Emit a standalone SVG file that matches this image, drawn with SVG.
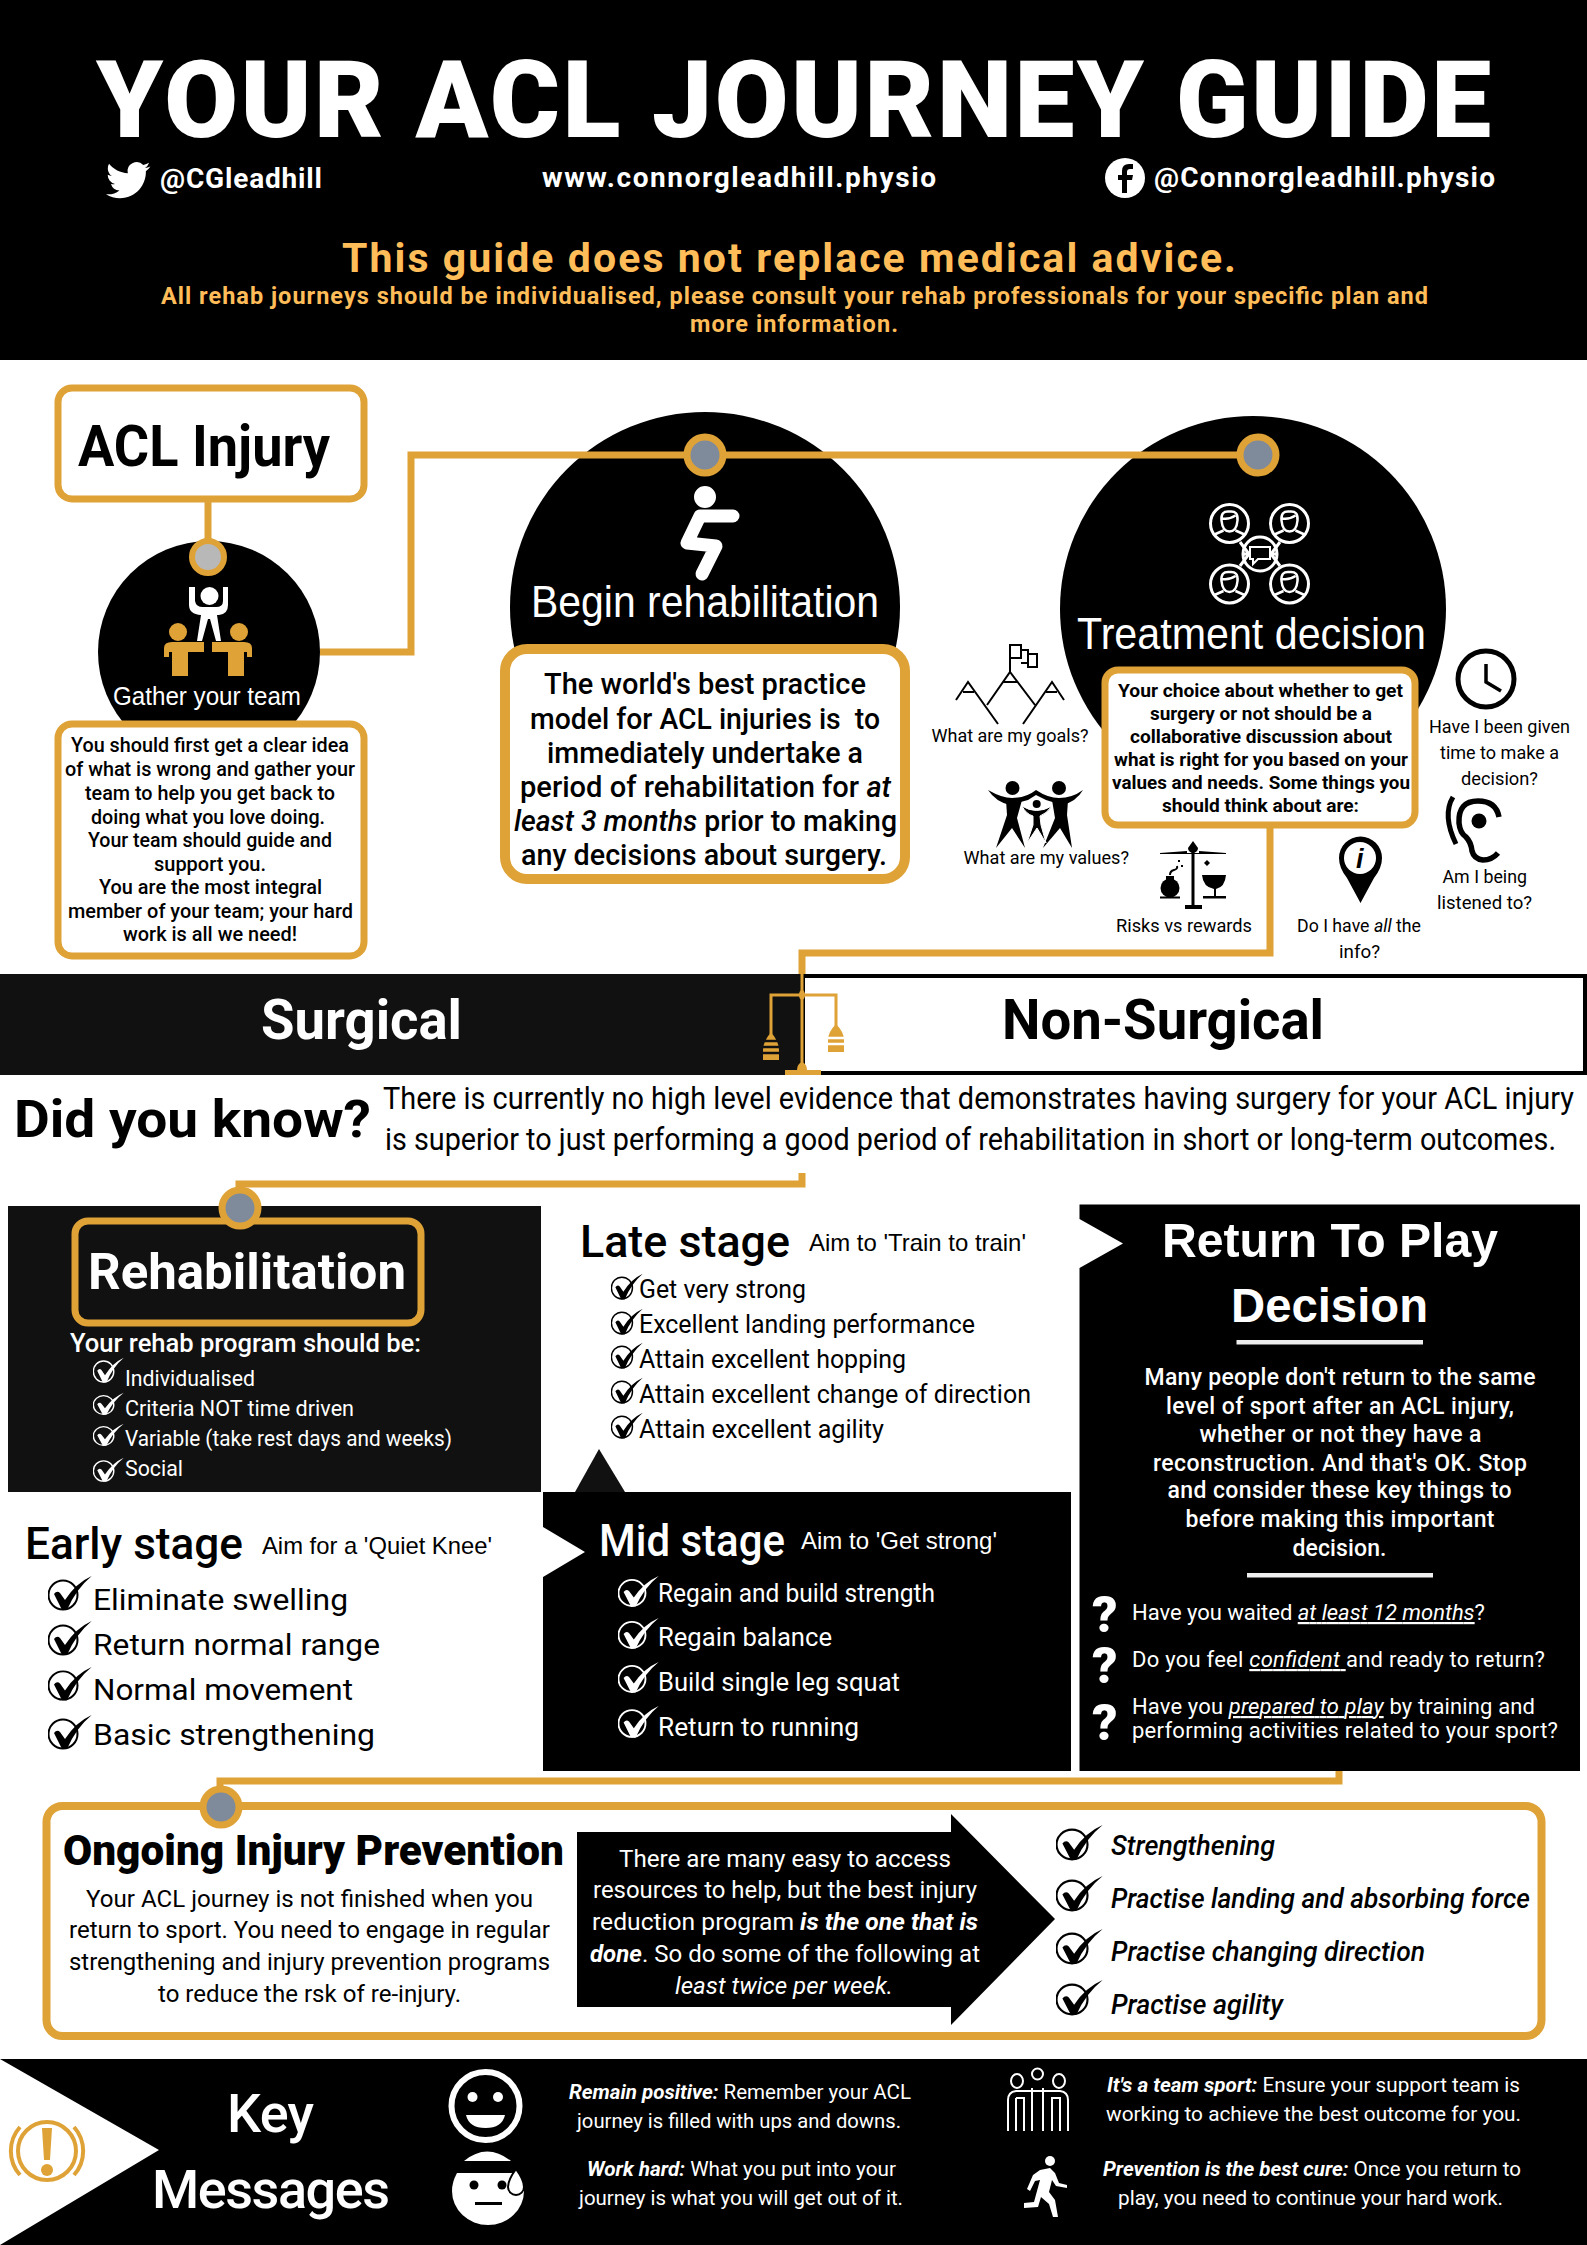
<svg xmlns="http://www.w3.org/2000/svg" width="1587" height="2245" viewBox="0 0 1587 2245">
<style>
text{font-family:"Roboto","Liberation Sans",sans-serif;white-space:pre}
.ls{font-family:"Liberation Sans",Arial,sans-serif}
.w{fill:#fff}.k{fill:#000}.o{fill:#ffbd59}
.b{font-weight:700}.m{font-weight:500}.x{font-weight:900}
.i{font-style:italic}
.u{text-decoration:underline}
.gold{fill:none;stroke:#dfa237}
.box{fill:#fff;stroke:#dfa237}
.conn{fill:none;stroke:#dfa237;stroke-width:7}
.nd{fill:#7f8a9b;stroke:#dfa237;stroke-width:7}
.ckk{color:#000}.ckw{color:#fff}
.line{fill:none;stroke:#000;stroke-width:2}
.wl{fill:none;stroke:#fff;stroke-width:3}
</style>
<defs>
<symbol id="chk" viewBox="0 0 44 40" preserveAspectRatio="none">
<circle cx="15" cy="20" r="14.500" fill="none" stroke="currentColor" stroke-width="2"/>
<path d="M6,19 Q9,15 12,18 L17,25 Q28,8 43.700,1 Q28,14 19,35 H14 Z" fill="currentColor"/>
</symbol>
<g id="person">
<circle r="19"/>
<path d="M-8,-3 Q-9,-13 0,-12 Q9,-13 8,-3 Q7,8 0,8 Q-7,8 -8,-3 M-7,-5 Q0,-4 6,-8 M-15,11 L-6,7 M15,11 L6,7" stroke-width="2.500"/>
</g>
</defs>
<rect width="1587" height="2245" fill="#fff"/>

<g id="header">
<rect width="1587" height="360" fill="#000"/>
<text class="w x" x="96" y="137" font-size="107" textLength="1395" lengthAdjust="spacing">YOUR ACL JOURNEY GUIDE</text>
<path transform="translate(106,158) scale(1.85)" fill="#fff" d="M23.953 4.57a10 10 0 01-2.825.775 4.958 4.958 0 002.163-2.723c-.951.555-2.005.959-3.127 1.184a4.92 4.92 0 00-8.384 4.482C7.69 8.095 4.067 6.13 1.64 3.162a4.822 4.822 0 00-.666 2.475c0 1.71.87 3.213 2.188 4.096a4.904 4.904 0 01-2.228-.616v.06a4.923 4.923 0 003.946 4.827 4.996 4.996 0 01-2.212.085 4.936 4.936 0 004.604 3.417 9.867 9.867 0 01-6.102 2.105c-.39 0-.779-.023-1.17-.067a13.995 13.995 0 007.557 2.209c9.053 0 13.998-7.496 13.998-13.985 0-.21 0-.42-.015-.63A9.935 9.935 0 0024 4.59z"/>
<text class="w b" x="160" y="188" font-size="28" textLength="162" lengthAdjust="spacing">@CGleadhill</text>
<text class="w b" x="542" y="187" font-size="28" textLength="394" lengthAdjust="spacing">www.connorgleadhill.physio</text>
<circle cx="1125" cy="178" r="20" fill="#fff"/>
<path d="M1127,193 v-13 h5 l1,-5 h-6 v-3 q0,-3 3,-3 h3 v-5 h-4 q-7,0 -7,7 v4 h-4 v5 h4 v13 z" fill="#000"/>
<text class="w b" x="1154" y="187" font-size="28" textLength="341" lengthAdjust="spacing">@Connorgleadhill.physio</text>
<text class="o b" x="342" y="272" font-size="41" textLength="894" lengthAdjust="spacing">This guide does not replace medical advice.</text>
<text class="o b" x="161" y="304" font-size="23.500" textLength="1267" lengthAdjust="spacing">All rehab journeys should be individualised, please consult your rehab professionals for your specific plan and</text>
<text class="o b" x="690" y="332" font-size="23.500" textLength="208" lengthAdjust="spacing">more information.</text>
</g>

<g id="node-begin-circle"><circle cx="705" cy="607" r="195" fill="#000"/></g>
<g id="node-treat-circle"><circle cx="1253" cy="609" r="193" fill="#000"/></g>
<g id="node-gather-circle"><circle cx="209" cy="652" r="111" fill="#000"/></g>

<g id="connectors">
<path class="conn" d="M208,502 V540"/>
<path class="conn" d="M320,652 H411 V455 H1258"/>
<path class="conn" d="M1270,828 V953 H802 V1070"/>
<path class="conn" d="M802,1173 V1184 H239 V1200"/>
<path class="conn" d="M1339,1771 V1781 H220 V1795"/>
</g>

<g id="node-acl-injury">
<rect class="box" x="58" y="388" width="306" height="111" rx="14" stroke-width="7"/>
<text class="k b" x="78" y="466" font-size="58" textLength="252" lengthAdjust="spacingAndGlyphs">ACL Injury</text>
</g>

<g id="node-gather">
<circle cx="208" cy="557" r="16" fill="#b8b8b8" stroke="#dfa237" stroke-width="6"/>
<g id="icon-team">
<circle cx="209.500" cy="596" r="9" fill="#fff"/>
<path d="M189,587 h6 v14 q1,6 8,6 h13 q7,0 7,-6 v-14 h5 v18 q0,9 -9,10 l-2,0 l4,26 h-5 l-6,-22 h-2 l-6,22 h-5 l4,-26 q-12,-1 -12,-10 z" fill="#fff"/>
<circle cx="178" cy="632" r="9" fill="#dfa237"/><circle cx="239" cy="632" r="9" fill="#dfa237"/>
<path d="M172,642 h32 v10 h-16 v24 h-16 v-24 h-3 v5 h-5 v-9 q0,-6 8,-6z M244,642 h-32 v10 h16 v24 h16 v-24 h3 v5 h5 v-9 q0,-6 -8,-6z" fill="#dfa237"/>
</g>
<text class="ls w" x="113" y="705" font-size="26" textLength="188" lengthAdjust="spacingAndGlyphs">Gather your team</text>
<rect class="box" x="58" y="724" width="306" height="232" rx="14" stroke-width="7"/>
<g class="k m" font-size="20">
<text x="71" y="752" textLength="278" lengthAdjust="spacingAndGlyphs">You should first get a clear idea</text>
<text x="65" y="776" textLength="290" lengthAdjust="spacingAndGlyphs">of what is wrong and gather your</text>
<text x="85" y="800" textLength="250" lengthAdjust="spacingAndGlyphs">team to help you get back to</text>
<text x="91" y="824" textLength="234" lengthAdjust="spacingAndGlyphs">doing what you love doing.</text>
<text x="88" y="847" textLength="244" lengthAdjust="spacingAndGlyphs">Your team should guide and</text>
<text x="154" y="871" textLength="112" lengthAdjust="spacingAndGlyphs">support you.</text>
<text x="99" y="894" textLength="223" lengthAdjust="spacingAndGlyphs">You are the most integral</text>
<text x="68" y="918" textLength="285" lengthAdjust="spacingAndGlyphs">member of your team; your hard</text>
<text x="123" y="941" textLength="174" lengthAdjust="spacingAndGlyphs">work is all we need!</text>
</g>
</g>

<g id="node-begin">
<circle class="nd" cx="705" cy="455" r="18"/>
<g id="icon-squat" fill="none" stroke="#fff" stroke-width="13" stroke-linecap="round" stroke-linejoin="round">
<path d="M733,516 H700 L687,543 L716,546 L702,574"/>
<circle cx="705" cy="497" r="5" stroke-width="12" fill="#fff"/>
</g>
<text class="ls w" x="531" y="617" font-size="44" textLength="348" lengthAdjust="spacingAndGlyphs">Begin rehabilitation</text>
<rect class="box" x="505" y="649" width="400" height="230" rx="22" stroke-width="10"/>
<g class="k m" font-size="29">
<text x="544" y="694" textLength="322" lengthAdjust="spacingAndGlyphs">The world's best practice</text>
<text x="530" y="729" textLength="350" lengthAdjust="spacingAndGlyphs">model for ACL injuries is  to</text>
<text x="547" y="763" textLength="316" lengthAdjust="spacingAndGlyphs">immediately undertake a</text>
<text x="520" y="797" textLength="371" lengthAdjust="spacingAndGlyphs">period of rehabilitation for <tspan class="i">at</tspan></text>
<text x="514" y="831" textLength="383" lengthAdjust="spacingAndGlyphs"><tspan class="i">least 3 months</tspan> prior to making</text>
<text x="521" y="865" textLength="366" lengthAdjust="spacingAndGlyphs">any decisions about surgery.</text>
</g>
</g>

<g id="node-treatment">
<circle class="nd" cx="1258" cy="455" r="18"/>
<g id="icon-network" class="wl">
<path d="M1240,542 L1249,554 L1240,566 M1280,542 L1271,554 L1280,566 M1249,554 H1243 M1271,554 H1277"/>
<use href="#person" x="1229.500" y="523.500"/><use href="#person" x="1289.500" y="523.500"/>
<use href="#person" x="1229.500" y="584"/><use href="#person" x="1289.500" y="584"/>
<circle cx="1260" cy="554" r="17"/>
<path d="M1250,547 h20 v12 h-12 l-5,5 v-5 h-3z" stroke-width="2"/>
</g>
<text class="ls w" x="1077" y="649" font-size="44" textLength="349" lengthAdjust="spacingAndGlyphs">Treatment decision</text>
<rect class="box" x="1105" y="670" width="310" height="155" rx="13" stroke-width="7"/>
<g class="k b" font-size="19">
<text x="1118" y="697" textLength="285" lengthAdjust="spacingAndGlyphs">Your choice about whether to get</text>
<text x="1150" y="720" textLength="222" lengthAdjust="spacingAndGlyphs">surgery or not should be a</text>
<text x="1130" y="743" textLength="262" lengthAdjust="spacingAndGlyphs">collaborative discussion about</text>
<text x="1114" y="766" textLength="294" lengthAdjust="spacingAndGlyphs">what is right for you based on your</text>
<text x="1112" y="789" textLength="298" lengthAdjust="spacingAndGlyphs">values and needs. Some things you</text>
<text x="1162" y="812" textLength="197" lengthAdjust="spacingAndGlyphs">should think about are:</text>
</g>
</g>

<g id="node-goals">
<g class="line">
<path d="M1010,672 V645 h11 v13 h-11 M1021,650 h7 v13 h-7 M1028,654 h9 v13 h-9 v-4"/>
<path d="M956,700 L968,682 L998,724 M987,705 L1010,672 L1035,705 M1023,724 L1052,682 L1064,700"/>
<path d="M963,692 h11 M1003,682 h14 M1046,692 h11"/>
</g>
<text class="k" x="931.500" y="742" font-size="18.500" textLength="157" lengthAdjust="spacingAndGlyphs">What are my goals?</text>
</g>
<g id="node-values">
<circle cx="1012.500" cy="788" r="7"/><circle cx="1059" cy="788" r="7"/>
<path d="M988,790 Q1002,798 1012,798 Q1026,798 1036,790 Q1048,798 1059,798 Q1072,798 1083,790 Q1076,802 1062,805 L1046,800 L1036,795 L1028,800 L1010,805 Q996,802 988,790Z"/>
<path d="M1006,800 L1022,800 L1017,818 L1025,848 L1012,828 L996,848 L1007,815 Z M1052,800 L1068,800 L1067,815 L1072,848 L1060,828 L1043,848 L1055,818Z"/>
<path d="M1022,806 Q1036,815 1052,806 Q1046,814 1040,816 L1041,825 L1046,843 L1037,828 L1027,843 L1033,825 L1033,816 Q1026,814 1022,806Z" stroke="#fff" stroke-width="1"/>
<circle cx="1036.700" cy="804" r="4"/>
<text class="k" x="963.500" y="864" font-size="18.500" textLength="165.500" lengthAdjust="spacingAndGlyphs">What are my values?</text>
</g>
<g id="node-risks">
<rect x="1191.500" y="851" width="3" height="55"/>
<path d="M1160,853 L1187,851 V853 H1199 V851 L1226,853 V854 H1160Z M1193,841 l5,7 a5,5 0 0 1 -10,0z"/>
<rect x="1185" y="905" width="17" height="4"/>
<circle cx="1170" cy="888" r="9.500"/><rect x="1166" y="876" width="8" height="5"/>
<path d="M1170,875 q0,-4 4,-5 q4,-1 3,-4 M1181,866 h2 M1178,861 h2" fill="none" stroke="#000" stroke-width="2"/>
<rect x="1160" y="896.500" width="20" height="2"/>
<path d="M1202,875 h24 q-1,12 -10,14 v7 h10 v2.500 h-23 v-2.500 h11 v-7 q-11,-2 -12,-14z"/>
<path d="M1207,860 l3,3 l-3,3 l-3,-3z"/>
<text class="k" x="1116" y="932" font-size="18.500" textLength="136" lengthAdjust="spacingAndGlyphs">Risks vs rewards</text>
</g>
<g id="node-info">
<path d="M1339,858 a21.500,21.500 0 0 1 43,0 q0,10 -8,20 l-13.500,25 l-13.500,-25 q-8,-10 -8,-20z"/>
<circle cx="1360" cy="858" r="16" fill="#fff"/>
<text class="ls b i k" x="1356" y="868" font-size="27">i</text>
<text class="k" x="1297" y="932" font-size="18.500" textLength="124" lengthAdjust="spacingAndGlyphs">Do I have <tspan class="i">all</tspan> the</text>
<text class="k" x="1339" y="958" font-size="18.500" textLength="41" lengthAdjust="spacingAndGlyphs">info?</text>
</g>
<g id="node-time">
<circle cx="1486" cy="679" r="28" fill="none" stroke="#000" stroke-width="5"/>
<path d="M1486,664 V682 L1501,691" fill="none" stroke="#000" stroke-width="3.500"/>
<text class="k" x="1429" y="733" font-size="18.500" textLength="141" lengthAdjust="spacingAndGlyphs">Have I been given</text>
<text class="k" x="1440" y="759" font-size="18.500" textLength="119" lengthAdjust="spacingAndGlyphs">time to make a</text>
<text class="k" x="1461" y="785" font-size="18.500" textLength="77" lengthAdjust="spacingAndGlyphs">decision?</text>
</g>
<g id="node-listen">
<path d="M1453,797 q-11,18 3,47" fill="none" stroke="#000" stroke-width="5"/>
<path d="M1499,817 q-3,-16 -21,-16 q-20,0 -19,22 q1,10 7,14 q5,5 6,14 q2,8 11,9 q9,0 15,-7" fill="none" stroke="#000" stroke-width="5.500"/>
<circle cx="1479" cy="821" r="7.500"/>
<text class="k" x="1442.500" y="883" font-size="18.500" textLength="84.500" lengthAdjust="spacingAndGlyphs">Am I being</text>
<text class="k" x="1437" y="909" font-size="18.500" textLength="95" lengthAdjust="spacingAndGlyphs">listened to?</text>
</g>

<g id="node-surgical">
<rect x="0" y="974" width="803" height="101" fill="#111"/>
<text class="w b" x="261" y="1039" font-size="56" textLength="201" lengthAdjust="spacingAndGlyphs">Surgical</text>
</g>
<g id="node-non-surgical">
<rect x="803" y="976" width="782" height="97" fill="#fff" stroke="#000" stroke-width="4"/>
<text class="k b" x="1002" y="1039" font-size="56" textLength="322" lengthAdjust="spacingAndGlyphs">Non-Surgical</text>
</g>
<g id="scale-icon">
<path d="M802,974 V1070" fill="none" stroke="#dfa237" stroke-width="3"/>
<path d="M802,995 H771 V1034 M802,995 H836 V1026" fill="none" stroke="#dfa237" stroke-width="3"/>
<ellipse cx="802" cy="995" rx="3" ry="5" fill="#dfa237"/>
<path d="M763,1050 q0,-8 8,-18 q8,10 8,18 v10 h-16z" fill="#dfa237"/>
<path d="M763,1041 h16 M763,1047 h16 M763,1053 h16" stroke="#111" stroke-width="2.500"/>
<path d="M828,1040 q0,-8 8,-16 q8,8 8,16 v12 h-16z" fill="#dfa237"/>
<path d="M828,1038 h16 M828,1044 h16" stroke="#fff" stroke-width="2.500"/>
<path d="M797,1070 q0,-6 5,-8 q5,2 5,8z" fill="#dfa237"/>
<rect x="785" y="1070" width="36" height="5" fill="#dfa237"/>
</g>

<g id="node-did-you-know">
<text class="k b" x="14" y="1137" font-size="52" textLength="357" lengthAdjust="spacingAndGlyphs">Did you know?</text>
<text class="k" x="383" y="1109" font-size="31" textLength="1191" lengthAdjust="spacingAndGlyphs">There is currently no high level evidence that demonstrates having surgery for your ACL injury</text>
<text class="k" x="385" y="1150" font-size="31" textLength="1171" lengthAdjust="spacingAndGlyphs">is superior to just performing a good period of rehabilitation in short or long-term outcomes.</text>
</g>

<g id="node-rehabilitation" class="ckw">
<rect x="8" y="1206" width="533" height="286" fill="#111"/>
<rect x="75" y="1221" width="346" height="102" rx="13" fill="none" stroke="#dfa237" stroke-width="7"/>
<circle class="nd" cx="240" cy="1208" r="18"/>
<text class="w b" x="88" y="1289" font-size="50" textLength="318" lengthAdjust="spacingAndGlyphs">Rehabilitation</text>
<text class="w m" x="70" y="1352" font-size="25" textLength="351" lengthAdjust="spacingAndGlyphs">Your rehab program should be:</text>
<use href="#chk" x="93" y="1357" width="31" height="29"/>
<use href="#chk" x="93" y="1392" width="31" height="26"/>
<use href="#chk" x="93" y="1423" width="31" height="26"/>
<use href="#chk" x="93" y="1457" width="31" height="28"/>
<g class="w" font-size="22">
<text x="125" y="1386" textLength="130" lengthAdjust="spacingAndGlyphs">Individualised</text>
<text x="125" y="1416" textLength="229" lengthAdjust="spacingAndGlyphs">Criteria NOT time driven</text>
<text x="125" y="1446" textLength="327" lengthAdjust="spacingAndGlyphs">Variable (take rest days and weeks)</text>
<text x="125" y="1476" textLength="58" lengthAdjust="spacingAndGlyphs">Social</text>
</g>
</g>

<g id="node-late-stage" class="ckk">
<text class="k m" x="580" y="1257" font-size="44" textLength="210" lengthAdjust="spacingAndGlyphs">Late stage</text>
<text class="ls k" x="809" y="1251" font-size="24" textLength="217" lengthAdjust="spacingAndGlyphs">Aim to 'Train to train'</text>
<use href="#chk" x="611" y="1273" width="32" height="30"/>
<use href="#chk" x="611" y="1308" width="32" height="30"/>
<use href="#chk" x="611" y="1342" width="32" height="30"/>
<use href="#chk" x="611" y="1377" width="32" height="30"/>
<use href="#chk" x="611" y="1412" width="32" height="30"/>
<g class="k" font-size="25">
<text x="639" y="1298" textLength="167" lengthAdjust="spacingAndGlyphs">Get very strong</text>
<text x="639" y="1333" textLength="336" lengthAdjust="spacingAndGlyphs">Excellent landing performance</text>
<text x="639" y="1368" textLength="267" lengthAdjust="spacingAndGlyphs">Attain excellent hopping</text>
<text x="639" y="1403" textLength="392" lengthAdjust="spacingAndGlyphs">Attain excellent change of direction</text>
<text x="639" y="1438" textLength="245" lengthAdjust="spacingAndGlyphs">Attain excellent agility</text>
</g>
<path d="M599,1449 L575,1492 H625Z" fill="#111"/>
</g>

<g id="node-mid-stage" class="ckw">
<path d="M543,1492 H1071 V1771 H543 V1577 L585,1552 L543,1527Z" fill="#000"/>
<text class="w m" x="599" y="1556" font-size="44" textLength="186" lengthAdjust="spacingAndGlyphs">Mid stage</text>
<text class="ls w" x="801" y="1549" font-size="24" textLength="196" lengthAdjust="spacingAndGlyphs">Aim to 'Get strong'</text>
<use href="#chk" x="618" y="1575" width="41" height="36"/>
<use href="#chk" x="618" y="1617" width="41" height="36"/>
<use href="#chk" x="618" y="1661" width="41" height="36"/>
<use href="#chk" x="618" y="1705" width="41" height="37"/>
<g class="w" font-size="26">
<text x="658" y="1602" textLength="277" lengthAdjust="spacingAndGlyphs">Regain and build strength</text>
<text x="658" y="1646" textLength="174" lengthAdjust="spacingAndGlyphs">Regain balance</text>
<text x="658" y="1691" textLength="242" lengthAdjust="spacingAndGlyphs">Build single leg squat</text>
<text x="658" y="1736" textLength="201" lengthAdjust="spacingAndGlyphs">Return to running</text>
</g>
</g>

<g id="node-early-stage" class="ckk">
<text class="k m" x="25" y="1559" font-size="44" textLength="218" lengthAdjust="spacingAndGlyphs">Early stage</text>
<text class="ls k" x="262" y="1554" font-size="24" textLength="230" lengthAdjust="spacingAndGlyphs">Aim for a 'Quiet Knee'</text>
<use href="#chk" x="48" y="1575" width="44" height="40"/>
<use href="#chk" x="48" y="1620" width="44" height="40"/>
<use href="#chk" x="48" y="1666" width="44" height="39"/>
<use href="#chk" x="48" y="1714" width="44" height="40"/>
<g class="k" font-size="30">
<text x="93" y="1610" textLength="255" lengthAdjust="spacingAndGlyphs">Eliminate swelling</text>
<text x="93" y="1655" textLength="287" lengthAdjust="spacingAndGlyphs">Return normal range</text>
<text x="93" y="1700" textLength="260" lengthAdjust="spacingAndGlyphs">Normal movement</text>
<text x="93" y="1745" textLength="282" lengthAdjust="spacingAndGlyphs">Basic strengthening</text>
</g>
</g>

<g id="node-return-to-play">
<path d="M1079.500,1204.500 H1580 V1771 H1079.500 V1268 L1123,1243.500 L1079.500,1219Z" fill="#000"/>
<text class="ls w b" x="1162" y="1257" font-size="48" textLength="336" lengthAdjust="spacingAndGlyphs">Return To Play</text>
<text class="ls w b" x="1231" y="1322" font-size="48" textLength="197" lengthAdjust="spacingAndGlyphs">Decision</text>
<rect x="1236.500" y="1340" width="186.500" height="4.500" fill="#eee"/>
<g class="w m" font-size="23">
<text x="1144.500" y="1385" textLength="391" lengthAdjust="spacing">Many people don't return to the same</text>
<text x="1166" y="1414" textLength="348" lengthAdjust="spacing">level of sport after an ACL injury,</text>
<text x="1199.500" y="1442" textLength="282" lengthAdjust="spacing">whether or not they have a</text>
<text x="1153" y="1470.500" textLength="374" lengthAdjust="spacing">reconstruction. And that's OK. Stop</text>
<text x="1167.500" y="1498" textLength="344" lengthAdjust="spacing">and consider these key things to</text>
<text x="1185.500" y="1527" textLength="309" lengthAdjust="spacing">before making this important</text>
<text x="1292.500" y="1555.500" textLength="94" lengthAdjust="spacing">decision.</text>
</g>
<rect x="1247" y="1573" width="186" height="4.500" fill="#eee"/>
<g class="w x" font-size="50">
<text x="1092" y="1632">?</text>
<text x="1092" y="1683">?</text>
<text x="1092" y="1740">?</text>
</g>
<g class="w" font-size="22">
<text x="1132" y="1620" textLength="353" lengthAdjust="spacing">Have you waited <tspan class="i u">at least 12 months</tspan>?</text>
<text x="1132" y="1667" textLength="413" lengthAdjust="spacing">Do you feel <tspan class="i u">confident </tspan>and ready to return?</text>
<text x="1132" y="1714" textLength="403" lengthAdjust="spacing">Have you <tspan class="i u">prepared to play</tspan> by training and</text>
<text x="1132" y="1738" textLength="426" lengthAdjust="spacing">performing activities related to your sport?</text>
</g>
</g>

<g id="node-ongoing" class="ckk">
<rect class="box" x="46.500" y="1806" width="1495" height="230" rx="16" stroke-width="8"/>
<circle class="nd" cx="221" cy="1807" r="18"/>
<text class="k x" x="63" y="1865" font-size="43" textLength="501" lengthAdjust="spacingAndGlyphs">Ongoing Injury Prevention</text>
<g class="ls k" font-size="24.500">
<text x="86" y="1907" textLength="447" lengthAdjust="spacingAndGlyphs">Your ACL journey is not finished when you</text>
<text x="69" y="1938" textLength="481" lengthAdjust="spacingAndGlyphs">return to sport. You need to engage in regular</text>
<text x="69" y="1970" textLength="481" lengthAdjust="spacingAndGlyphs">strengthening and injury prevention programs</text>
<text x="158" y="2002" textLength="303" lengthAdjust="spacingAndGlyphs">to reduce the rsk of re-injury.</text>
</g>
<path d="M577,1832 H951 V1814 L1055,1919 L951,2025 V2007 H577Z" fill="#000"/>
<g class="ls w" font-size="24.500">
<text x="619" y="1867" textLength="332" lengthAdjust="spacingAndGlyphs">There are many easy to access</text>
<text x="593" y="1898" textLength="384" lengthAdjust="spacingAndGlyphs">resources to help, but the best injury</text>
<text x="592" y="1930" textLength="386" lengthAdjust="spacingAndGlyphs">reduction program <tspan class="b i">is the one that is</tspan></text>
<text x="590" y="1962" textLength="390" lengthAdjust="spacingAndGlyphs"><tspan class="b i">done</tspan>. So do some of the following at</text>
<text x="675" y="1994" textLength="218" lengthAdjust="spacingAndGlyphs" class="i">least twice per week.</text>
</g>
<use href="#chk" x="1056" y="1824" width="47" height="41"/>
<use href="#chk" x="1056" y="1875" width="47" height="41"/>
<use href="#chk" x="1056" y="1928" width="47" height="41"/>
<use href="#chk" x="1056" y="1979" width="47" height="41"/>
<g class="k m i" font-size="27">
<text x="1111" y="1855" textLength="164" lengthAdjust="spacingAndGlyphs">Strengthening</text>
<text x="1111" y="1908" textLength="419" lengthAdjust="spacingAndGlyphs">Practise landing and absorbing force</text>
<text x="1111" y="1961" textLength="314" lengthAdjust="spacingAndGlyphs">Practise changing direction</text>
<text x="1111" y="2014" textLength="172" lengthAdjust="spacingAndGlyphs">Practise agility</text>
</g>
</g>

<g id="node-key-messages">
<path d="M0,2059 H1587 V2245 H0 L159,2150Z" fill="#000"/>
<g id="icon-alert" class="gold">
<circle cx="47" cy="2151" r="29" stroke-width="4"/>
<path d="M20,2127 a36,36 0 0 0 0,48 M74,2127 a36,36 0 0 1 0,48" stroke-width="4"/>
<path d="M42,2128 H52 L50,2160 H44Z" fill="#dfa237" stroke="none"/>
<circle cx="47" cy="2170" r="6" fill="#dfa237" stroke="none"/>
</g>
<text class="w m" x="227" y="2132" font-size="54" textLength="87" lengthAdjust="spacing">Key</text>
<text class="w m" x="152" y="2208" font-size="54" textLength="238" lengthAdjust="spacing">Messages</text>
<g id="icon-smile">
<circle cx="485.500" cy="2106" r="34" fill="none" stroke="#fff" stroke-width="6"/>
<circle cx="472.500" cy="2097" r="5" fill="#fff"/><circle cx="498" cy="2097" r="5" fill="#fff"/>
<path d="M466,2115 H505 Q502,2128 485.500,2128 Q469,2128 466,2115Z" fill="#fff"/>
</g>
<g id="icon-sweat">
<path d="M464,2161 Q487,2142 511,2161z" fill="#fff"/>
<path d="M457,2173 H516 Q524,2182 524,2191 A36,34 0 0 1 452,2191 Q452,2182 457,2173Z" fill="#fff"/>
<circle cx="474" cy="2185" r="4.500"/><circle cx="502" cy="2185" r="4.500"/>
<rect x="475" y="2202" width="27" height="3"/>
<path d="M516,2169 q-8,11 -8,18 a8,8 0 0 0 16,0 q0,-7 -8,-18z" fill="#fff" stroke="#000" stroke-width="2"/>
</g>
<g class="w" font-size="21">
<text x="569" y="2099" textLength="342" lengthAdjust="spacingAndGlyphs"><tspan class="b i">Remain positive:</tspan> Remember your ACL</text>
<text x="577" y="2128" textLength="324" lengthAdjust="spacingAndGlyphs">journey is filled with ups and downs.</text>
<text x="587" y="2176" textLength="309" lengthAdjust="spacingAndGlyphs"><tspan class="b i">Work hard:</tspan> What you put into your</text>
<text x="579" y="2205" textLength="324" lengthAdjust="spacingAndGlyphs">journey is what you will get out of it.</text>
<text x="1107" y="2092" textLength="413" lengthAdjust="spacingAndGlyphs"><tspan class="b i">It's a team sport:</tspan> Ensure your support team is</text>
<text x="1106" y="2121" textLength="415" lengthAdjust="spacingAndGlyphs">working to achieve the best outcome for you.</text>
<text x="1103" y="2176" textLength="418" lengthAdjust="spacingAndGlyphs"><tspan class="b i">Prevention is the best cure:</tspan> Once you return to</text>
<text x="1118" y="2205" textLength="385" lengthAdjust="spacingAndGlyphs">play, you need to continue your hard work.</text>
</g>
<g id="icon-support" fill="none" stroke="#fff" stroke-width="2">
<circle cx="1037.500" cy="2074" r="5.500"/><ellipse cx="1017" cy="2081" rx="6" ry="7"/><ellipse cx="1059" cy="2081" rx="6" ry="7"/>
<path d="M1008,2131 V2100 q0,-8 8,-9 h44 q8,1 8,9 V2131 M1016,2131 V2098 M1024,2131 V2098 h-8 M1032,2131 V2088 M1043,2131 V2088 M1052,2131 V2098 h8 V2131"/>
</g>
<g id="icon-run" fill="#fff">
<circle cx="1050" cy="2161" r="5"/>
<path d="M1040,2170 l10,-2 l5,5 l4,10 l8,2 v3 l-11,-2 l-4,-6 l-3,12 l6,8 l3,17 h-5 l-4,-13 l-8,-7 l-3,10 l-14,1 v-5 l10,-1 l6,-22 l-5,1 l-5,10 l-3,-2 l6,-14z"/>
</g>
</g>
</svg>
